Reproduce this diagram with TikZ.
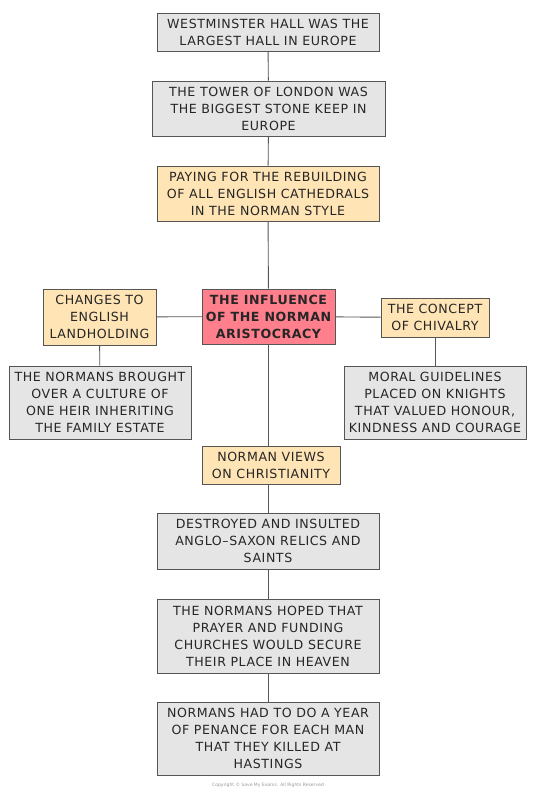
\documentclass[tikz,border=0pt]{standalone}
\usepackage{fontspec}
\setmainfont{DejaVu Sans}
\newfontfamily\boxfont[LetterSpace=4.5]{DejaVu Sans}
\definecolor{boxGrey}{HTML}{E5E5E5}
\definecolor{boxOrange}{HTML}{FFE4B5}
\definecolor{boxRed}{HTML}{FF7F8C}
\definecolor{lineGrey}{HTML}{555555}
\definecolor{textGrey}{HTML}{262626}

\begin{document}
\begin{tikzpicture}
[x=1pt,y=-1pt,
  lineDecorate/.style={-,draw=lineGrey,line width=0.9pt},%
  boxDecorate/.style={shape=rectangle,draw=lineGrey,line width=0.9pt,inner sep=0pt,
    align=center,text=textGrey,font=\boxfont\fontsize{12.6}{17}\selectfont},
  greyBox/.style={boxDecorate,fill=boxGrey},
  orangeBox/.style={boxDecorate,fill=boxOrange},
  redBox/.style={boxDecorate,fill=boxRed,font=\boxfont\fontsize{12.6}{17}\selectfont\bfseries}]
\useasboundingbox (0,0) rectangle (537,791);
%% top chain
\node (hall) at (268,32) [greyBox,minimum width=222pt,minimum height=38pt]
  {WESTMINSTER HALL WAS THE\\LARGEST HALL IN EUROPE};
\node (tower) at (268.5,108.5) [greyBox,minimum width=233pt,minimum height=55pt]
  {THE TOWER OF LONDON WAS\\THE BIGGEST STONE KEEP IN\\EUROPE};
\node (cathedrals) at (268,193.5) [orangeBox,minimum width=222pt,minimum height=55pt]
  {PAYING FOR THE REBUILDING\\OF ALL ENGLISH CATHEDRALS\\IN THE NORMAN STYLE};
%% centre and sides
\node (influence) at (268.5,316.5) [redBox,minimum width=133pt,minimum height=55pt]
  {THE INFLUENCE\\OF THE NORMAN\\ARISTOCRACY};
\node (landholding) at (99.5,317) [orangeBox,minimum width=113pt,minimum height=56pt]
  {CHANGES TO\\ENGLISH\\LANDHOLDING};
\node (chivalry) at (435,317.5) [orangeBox,minimum width=108pt,minimum height=39pt]
  {THE CONCEPT\\OF CHIVALRY};
\node (heir) at (100,402.5) [greyBox,minimum width=182pt,minimum height=73pt]
  {THE NORMANS BROUGHT\\OVER A CULTURE OF\\ONE HEIR INHERITING\\THE FAMILY ESTATE};
\node (moral) at (435,402.5) [greyBox,minimum width=182pt,minimum height=73pt]
  {MORAL GUIDELINES\\PLACED ON KNIGHTS\\THAT VALUED HONOUR,\\KINDNESS AND COURAGE};
%% bottom chain
\node (christianity) at (271,465) [orangeBox,minimum width=138pt,minimum height=38pt]
  {NORMAN VIEWS\\ON CHRISTIANITY};
\node (relics) at (268,541) [greyBox,minimum width=222pt,minimum height=56pt]
  {DESTROYED AND INSULTED\\ANGLO–SAXON RELICS AND\\SAINTS};
\node (heaven) at (268,636) [greyBox,minimum width=222pt,minimum height=74pt]
  {THE NORMANS HOPED THAT\\PRAYER AND FUNDING\\CHURCHES WOULD SECURE\\THEIR PLACE IN HEAVEN};
\node (penance) at (268,738.5) [greyBox,minimum width=222pt,minimum height=73pt]
  {NORMANS HAD TO DO A YEAR\\OF PENANCE FOR EACH MAN\\THAT THEY KILLED AT\\HASTINGS};
\node (copyright) at (268,785) [text=black!40,font=\fontsize{4.5}{5}\selectfont]
  {Copyright © Save My Exams. All Rights Reserved};
%% edges or lines
\path
\foreach \startnode/\endnode in {
  hall/tower, tower/cathedrals, cathedrals/influence,
  influence/landholding, influence/chivalry,
  landholding/heir, chivalry/moral, relics/heaven, heaven/penance}
{
  (\startnode) edge[lineDecorate] (\endnode)
};
\draw[lineDecorate] (influence.south) -- (influence.south |- christianity.north);
\draw[lineDecorate] (relics.north) -- (relics.north |- christianity.south);
\end{tikzpicture}
\end{document}
